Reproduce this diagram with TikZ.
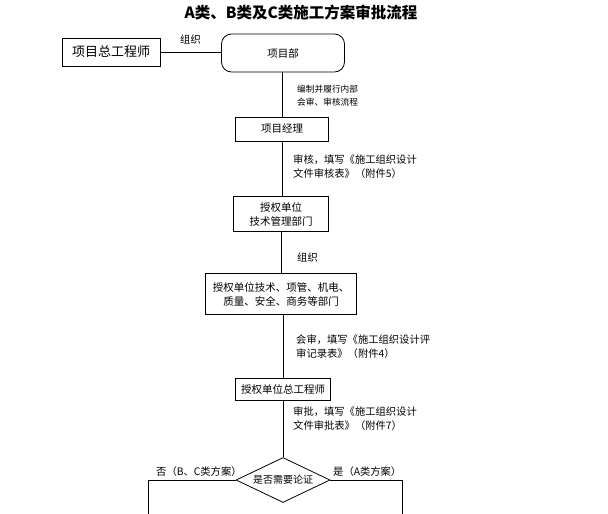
\documentclass[tikz,border=0pt]{standalone}
\usepackage{fontspec}
\setmainfont{Noto Sans CJK SC}
\usetikzlibrary{shapes.geometric}
\begin{document}
\begin{tikzpicture}[x=1pt,y=-1pt,
  box/.style={draw,line width=0.8pt,inner sep=2pt,align=center,font=\fontsize{10.5}{14}\selectfont},
  lbl/.style={align=left,anchor=west,font=\fontsize{10.3}{14}\selectfont,inner sep=0pt},
  ln/.style={line width=0.8pt}]
\useasboundingbox (0,0) rectangle (608,514);
\node (title) at (301,13) {\fontsize{15.5}{18}\selectfont\bfseries A类、B类及C类施工方案审批流程};
\node[box,minimum width=98pt,minimum height=28pt,font=\fontsize{13}{15}\selectfont] (zg) at (111,52) {项目总工程师};
\node[box,rounded corners=10pt,minimum width=123pt,minimum height=38pt] (xmb) at (283,53) {项目部};
\node[box,minimum width=93pt,minimum height=24pt] (jl) at (282,129) {项目经理};
\node[box,minimum width=95pt,minimum height=35pt] (js) at (281,214) {授权单位\\技术管理部门};
\node[box,minimum width=151pt,minimum height=41pt] (bm) at (281,294) {授权单位技术、项管、机电、\\质量、安全、商务等部门};
\node[box,minimum width=95pt,minimum height=22pt] (zgs) at (283,389) {授权单位总工程师};
\node[draw,line width=0.8pt,diamond,aspect=1.68,minimum width=94pt,inner sep=0pt,font=\fontsize{10}{12}\selectfont] (lz) at (283,480) {是否需要论证};
\coordinate (L) at (148,480); \coordinate (Ld) at (148,514);
\coordinate (R) at (402,480); \coordinate (Rd) at (402,514);
\draw[ln] (zg.east) -- (zg.east -| xmb.west);
\draw[ln] (xmb.south -| jl.north) -- (jl.north);
\draw[ln] (jl.south) -- (jl.south |- js.north);
\draw[ln] (js.south) -- (js.south |- bm.north);
\draw[ln] (bm.south -| zgs.north) -- (zgs.north);
\draw[ln] (zgs.south) -- (lz.north);
\draw[ln] (lz.west) -- (L) -- (Ld);
\draw[ln] (lz.east) -- (R) -- (Rd);
\node[lbl] (l1) at (180,40) {组织};
\node[lbl,font=\fontsize{8.7}{13}\selectfont] (l2) at (297,96) {编制并履行内部\\会审、审核流程};
\node[lbl] (l3) at (293,167) {审核，填写《施工组织设计\\文件审核表》（附件5）};
\node[lbl] (l4) at (297,258) {组织};
\node[lbl] (l5) at (296,347) {会审，填写《施工组织设计评\\审记录表》（附件4）};
\node[lbl] (l6) at (293,419) {审批，填写《施工组织设计\\文件审批表》（附件7）};
\node[lbl] (l7) at (156,472) {否（B、C类方案）};
\node[lbl] (l8) at (333,472) {是（A类方案）};
\end{tikzpicture}
\end{document}
